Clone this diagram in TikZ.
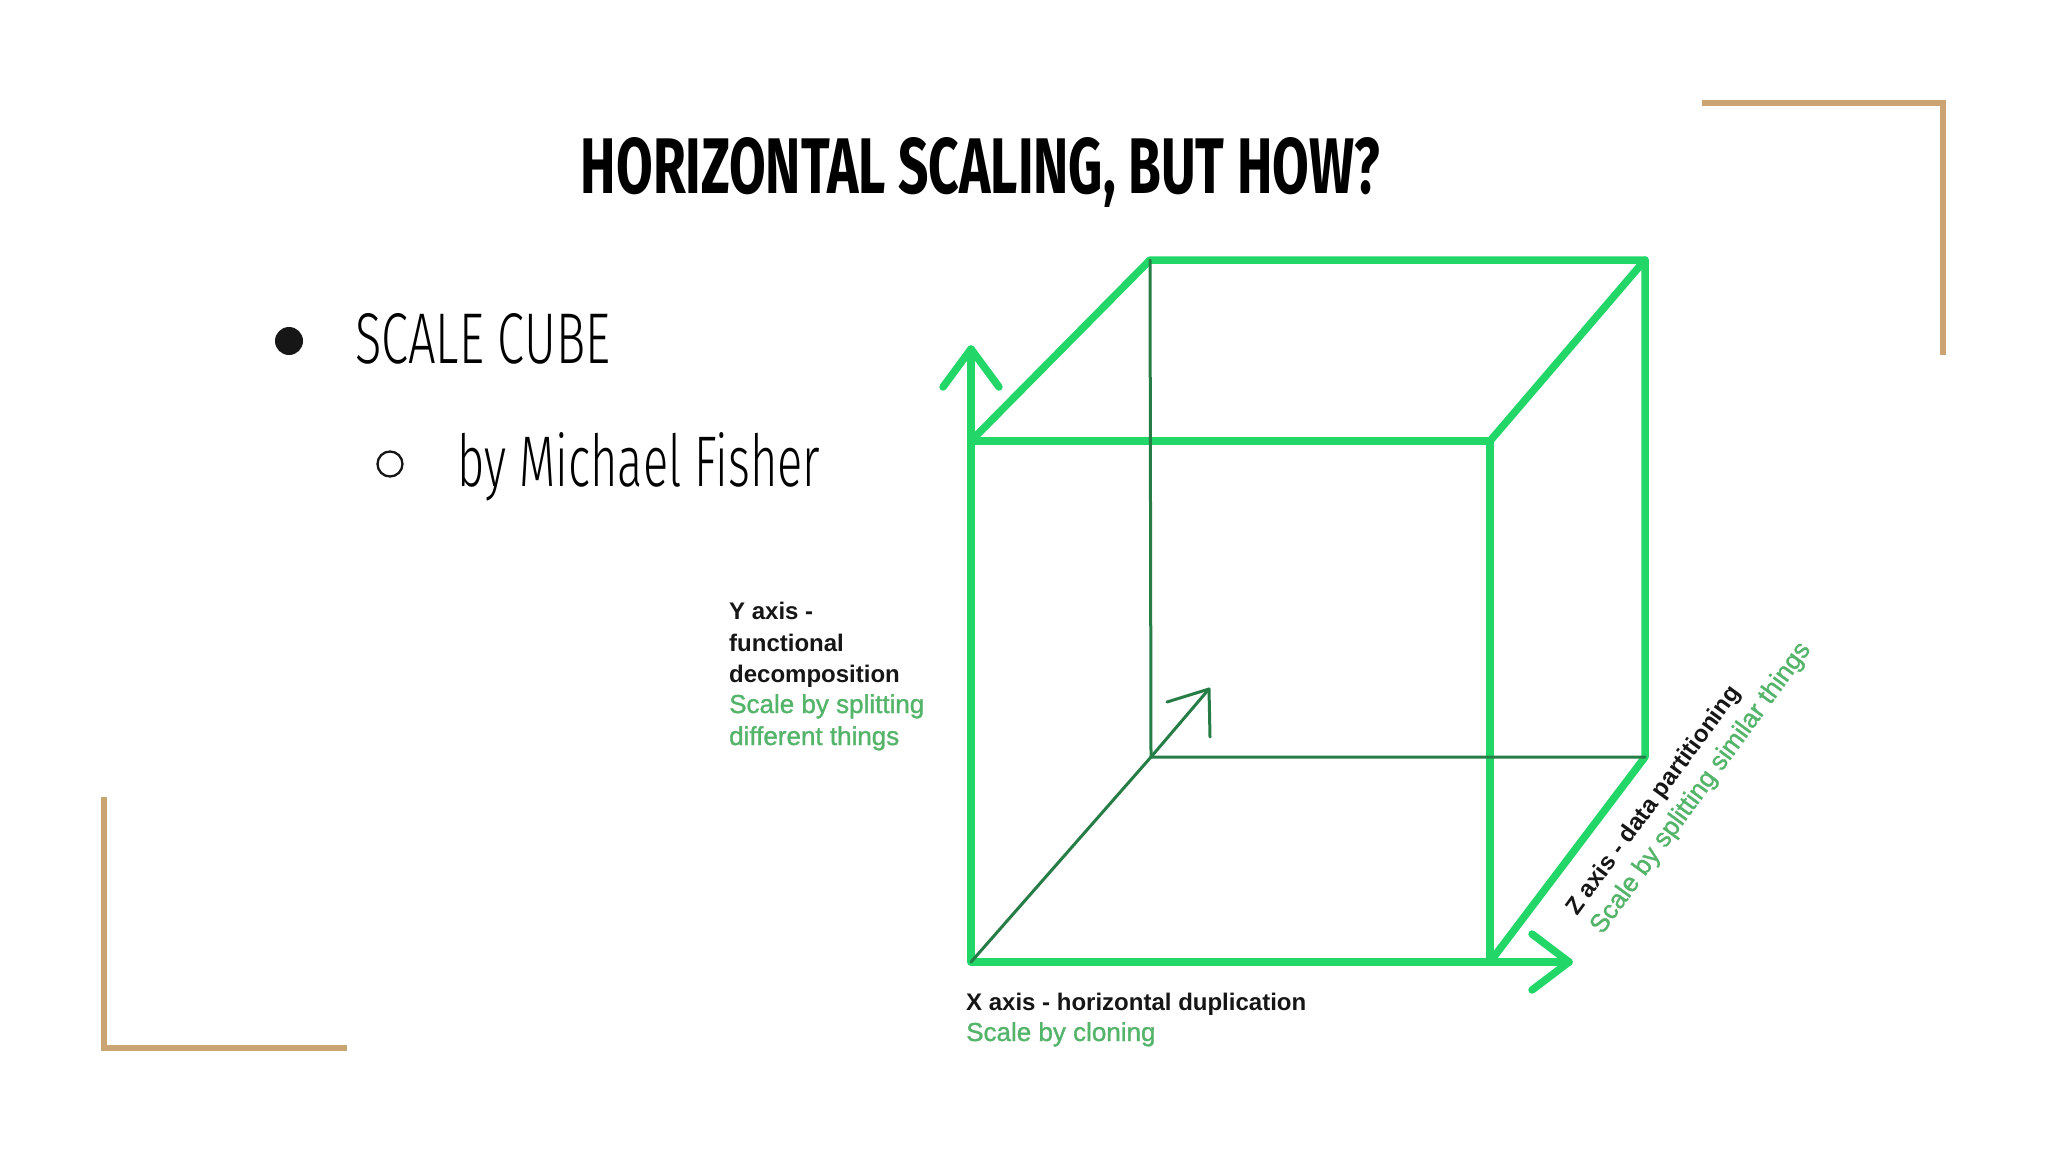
\documentclass[tikz,border=0pt]{standalone}
\usepackage{fontspec}
\usepackage{graphicx}
\setmainfont{Fira Sans}
\newfontfamily\lightfont{Fira Sans Light}
\newfontfamily\labfont{Liberation Sans}
\newfontfamily\labmed{Liberation Sans}[FakeBold=1.2]
\definecolor{cubegreen}{RGB}{34,214,104}
\definecolor{darkgreen}{RGB}{38,125,70}
\definecolor{labgreen}{RGB}{84,180,106}
\definecolor{bracketcol}{RGB}{203,164,115}
\definecolor{inkblack}{RGB}{22,22,22}
\tikzset{
  thickedge/.style={draw=cubegreen, line width=7.5pt, line cap=round, line join=round},
  thinedge/.style={draw=darkgreen, line width=3pt, line cap=round, line join=round},
  bracket/.style={draw=bracketcol, line width=6.5pt, line join=miter},
  blacklab/.style={anchor=base west, inner sep=0pt, text=inkblack, font=\labfont\bfseries\fontsize{24}{28}\selectfont},
  greenlab/.style={anchor=base west, inner sep=0pt, text=labgreen, font=\labmed\fontsize{26}{30}\selectfont},
  ztext/.style={anchor=base west, inner sep=0pt, rotate=53.8},
}
\begin{document}
\begin{tikzpicture}[x=1pt,y=-1pt]
\useasboundingbox[fill=white] (0,0) rectangle (2048,1152);

% corner brackets
\draw[bracket] (1702,103) -- (1943,103) -- (1943,355);
\draw[bracket] (104,797) -- (104,1048) -- (347,1048);

% title and bullets
\node[anchor=base, inner sep=0pt] (title) at (980.5,193)
  {\resizebox{799pt}{56pt}{\bfseries HORIZONTAL SCALING, BUT HOW?}};
\node[circle, fill=inkblack, minimum size=28pt, inner sep=0pt] (bul1) at (289,341) {};
\node[anchor=base west, inner sep=0pt] (item1) at (355,363)
  {\resizebox{255pt}{50pt}{\lightfont SCALE CUBE}};
\node[circle, draw=inkblack, line width=2.3pt, minimum size=25pt, inner sep=0pt] (bul2) at (390,464) {};
\node[anchor=base west, inner sep=0pt] (item2) at (457,486)
  {\resizebox{363pt}{54pt}{\lightfont by Michael Fisher}};

% cube corners
\coordinate (A) at (971,441);
\coordinate (B) at (1490,441);
\coordinate (C) at (1490,962);
\coordinate (D) at (971,962);
\coordinate (E) at (1150,260);
\coordinate (F) at (1645,260);
\coordinate (G) at (1645,757);
\coordinate (H) at (1151,757);
% arrow tips
\coordinate (Ytip) at (971,349);
\coordinate (Yl) at (943,387);
\coordinate (Yr) at (999,387);
\coordinate (Xtip) at (1569,962);
\coordinate (Xu) at (1532,934);
\coordinate (Xd) at (1532,990);
\coordinate (Ztip) at (1209,689);
\coordinate (Zl) at (1167,702);
\coordinate (Zd) at (1210,737);

% thick edges
\draw[thickedge] (A) -- (B) -- (C) -- (D) -- cycle;
\draw[thickedge] (A) -- (E) -- (F) -- (G) -- (C);
\draw[thickedge] (B) -- (F);
\draw[thickedge] (A) -- (Ytip);
\draw[thickedge] (Yl) -- (Ytip) -- (Yr);
\draw[thickedge] (C) -- (Xtip);
\draw[thickedge] (Xu) -- (Xtip) -- (Xd);

% thin hidden edges
\draw[thinedge] (E) -- (H) -- (G);
\draw[thinedge] (H) -- (D);
\draw[thinedge] (H) -- (Ztip);
\draw[thinedge] (Zl) -- (Ztip) -- (Zd);

% Y label
\node[blacklab] (y1) at (729,619) {Y axis -};
\node[blacklab] (y2) at (729,651) {functional};
\node[blacklab] (y3) at (729,682) {decomposition};
\node[greenlab] (y4) at (729,713) {Scale by splitting};
\node[greenlab] (y5) at (729,745) {different things};

% X label
\node[blacklab] (x1) at (966,1010) {X axis - horizontal duplication};
\node[greenlab] (x2) at (966,1041) {Scale by cloning};

% Z label (two lines in one rotated node)
\node[ztext] (zlab) at (1577,917)
  {\vtop{\baselineskip=31pt
     \hbox{\color{inkblack}\labfont\bfseries\fontsize{24}{31}\selectfont Z axis - data partitioning}
     \hbox{\color{labgreen}\labmed\fontsize{26}{31}\selectfont Scale by splitting similar things}}};
\end{tikzpicture}
\end{document}
